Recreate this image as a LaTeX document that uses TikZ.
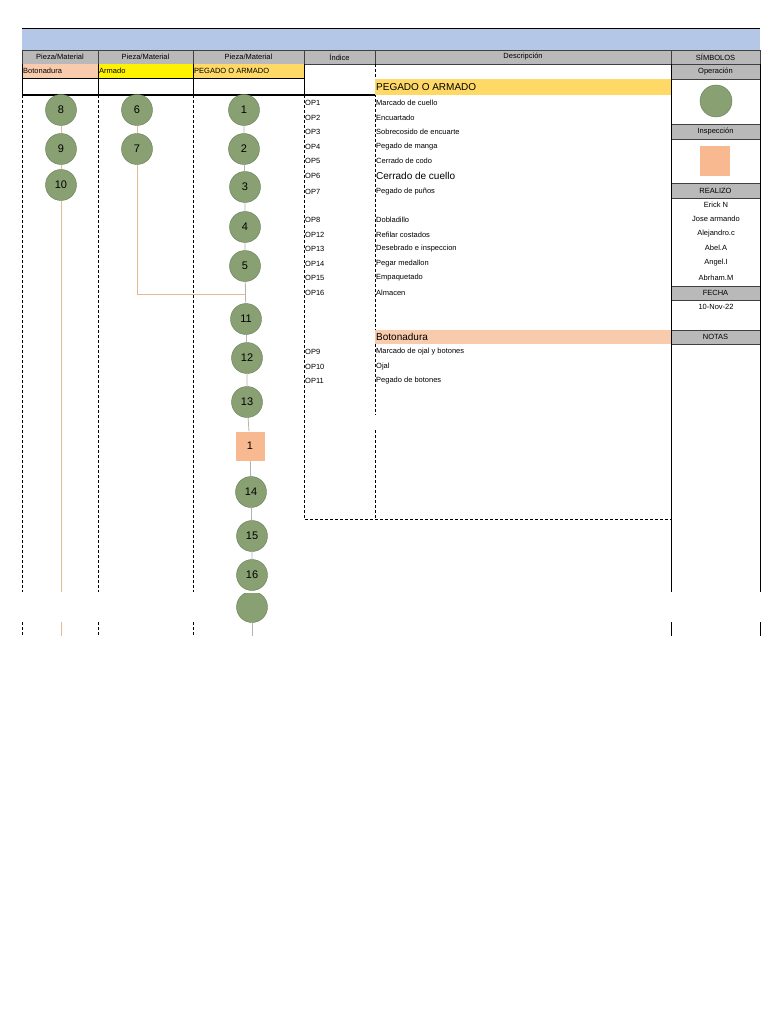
\documentclass[tikz,border=0pt]{standalone}
\usepackage{fontspec}
\setmainfont{Liberation Sans}
\definecolor{titleblue}{RGB}{180,199,231}
\definecolor{salmon}{RGB}{248,203,173}
\definecolor{gold}{RGB}{255,217,102}
\definecolor{opfill}{RGB}{137,160,115}
\definecolor{opline}{RGB}{100,125,85}
\definecolor{inspfill}{RGB}{248,185,145}
\definecolor{tanc}{RGB}{228,185,150}
\begin{document}
\begin{tikzpicture}[x=1pt,y=-1pt,
  hdr/.style={fill=gray!55,draw=black!75,line width=0.6pt},
  op/.style={circle,minimum size=31pt,inner sep=0pt,fill=opfill,draw=opline,font=\fontsize{11}{12}\selectfont},
  insp/.style={rectangle,minimum size=29pt,inner sep=0pt,fill=inspfill,font=\fontsize{11}{12}\selectfont},
  dl/.style={densely dashed,line width=0.5pt},
  tiny/.style={font=\fontsize{7.5}{8}\selectfont,inner sep=0pt,anchor=west},
  smt/.style={font=\fontsize{7.5}{8}\selectfont,inner sep=0pt},
  big/.style={font=\fontsize{10}{11}\selectfont,inner sep=0pt,anchor=west},
  tan/.style={draw=tanc,line width=0.9pt},
  gl/.style={draw=gray!60,line width=0.8pt}]
\useasboundingbox (0,0) rectangle (768,1024);
\fill[white] (0,0) rectangle (768,1024);
% title bar
\fill[titleblue] (22,28) rectangle (760,50);
\draw[line width=0.8pt] (22,28) -- (760,28);
% header
\foreach \a/\b/\t in {22/98/{Pieza/Material},98/193/{Pieza/Material},193/304/{Pieza/Material},304/375/Índice,375/671/Descripción,671/760/SÍMBOLOS}
  \draw[hdr] (\a,50) rectangle (\b,64) node[smt,midway] {\t};
% row 2
\fill[salmon] (22,64) rectangle (98,78);
\fill[yellow] (98,64) rectangle (193,78);
\fill[gold] (193,64) rectangle (304,78);
\node[smt,anchor=west] at (23,71) {Botonadura};
\node[smt,anchor=west] at (99,71) {Armado};
\node[smt,anchor=west] at (194,71) {PEGADO O ARMADO};
\draw[line width=0.5pt] (22,64) -- (22,95) (98,64) -- (98,95) (193,64) -- (193,95) (304,64) -- (304,95) (22,78) -- (304,78);
\draw[line width=1.3pt] (22,95) -- (375,95);
\draw[dl] (375,64) -- (375,415) (375,430) -- (375,519) (304,95) -- (304,519) -- (671,519);
\fill[gold] (375,79) rectangle (671,95);
\node[big] at (376,87) {PEGADO O ARMADO};
\fill[salmon] (375,330) rectangle (671,344);
\node[big] at (376,337) {Botonadura};
% symbols column
\draw[hdr] (671,64) rectangle (760,79) node[smt,midway] {Operación};
\node[op,minimum size=32pt] (symop) at (716,101) {};
\draw[hdr] (671,124) rectangle (760,139) node[smt,midway] {Inspección};
\node[insp,minimum size=30pt] (symin) at (715,161) {};
\draw[hdr] (671,183) rectangle (760,198) node[smt,midway] {REALIZO};
\foreach \y/\t in {205/Erick N,219/Jose armando,234/Alejandro.c,248/Abel.A,263/Angel.I,278/Abrham.M}
  \node[smt] at (716,\y) {\t};
\draw[hdr] (671,286) rectangle (760,300) node[smt,midway] {FECHA};
\node[smt] at (716,307) {10-Nov-22};
\draw[hdr] (671,330) rectangle (760,344) node[smt,midway] {NOTAS};
\draw[line width=0.6pt] (671,64) -- (671,592) (760,64) -- (760,592) (671,622) -- (671,636) (760,622) -- (760,636);
% dashed column lines
\draw[dl] (22,95) -- (22,592) (98,95) -- (98,592) (193,95) -- (193,592)
  (22,622) -- (22,636) (98,622) -- (98,636) (193,622) -- (193,636);
% index and descriptions
\foreach \y/\o/\d in {103/OP1/Marcado de cuello,118/OP2/Encuartado,132/OP3/Sobrecosido de encuarte,147/OP4/Pegado de manga,161/OP5/Cerrado de codo,192/OP7/Pegado de puños,220/OP8/Dobladillo,235/OP12/Refilar costados,249/OP13/Desebrado e inspeccion,264/OP14/Pegar medallon,278/OP15/Empaquetado,293/OP16/Almacen,352/OP9/Marcado de ojal y botones,367/OP10/Ojal,381/OP11/Pegado de botones}
  {\node[tiny] at (305,\y) {\o}; \node[tiny] at (376,\y) {\d};}
\node[tiny] at (305,176) {OP6};
\node[big] at (376,176) {Cerrado de cuello};
% connectors
\coordinate (j) at (245,294);
\coordinate (bend) at (137,294);
\coordinate (e1) at (61,592);
\coordinate (e2) at (61,622);
\coordinate (e3) at (61,636);
\node[op] (n8) at (61,110) {8};
\node[op] (n9) at (61,149) {9};
\node[op] (n10) at (61,185) {10};
\node[op] (n6) at (137,110) {6};
\node[op] (n7) at (137,149) {7};
\draw[tan] (n8) -- (n9) -- (n10) -- (e1) (e2) -- (e3);
\draw[tan] (n6) -- (n7) -- (bend) -- (j);
\node[op] (c1) at (244,110) {1};
\node[op] (c2) at (244,149) {2};
\node[op] (c3) at (245,187) {3};
\node[op] (c4) at (245,227) {4};
\node[op] (c5) at (245,266) {5};
\node[op] (c11) at (246,319) {11};
\node[op] (c12) at (247,358) {12};
\node[op] (c13) at (247,402) {13};
\node[insp] (i1) at (250,446) {1};
\node[op] (c14) at (251,492) {14};
\node[op] (c15) at (252,536) {15};
\node[op] (c16) at (252,575) {16};
\coordinate (cend) at (252,636);
\draw[gl] (c1) -- (c2) -- (c3) -- (c4) -- (c5) -- (c11) -- (c12) -- (c13) -- (i1) -- (c14) -- (c15) -- (c16);
\begin{scope}
\clip (230,593) rectangle (275,640);
\node[op] (c17) at (252,607) {};
\end{scope}
\draw[gl] (c17.south) -- (cend);
\end{tikzpicture}
\end{document}
